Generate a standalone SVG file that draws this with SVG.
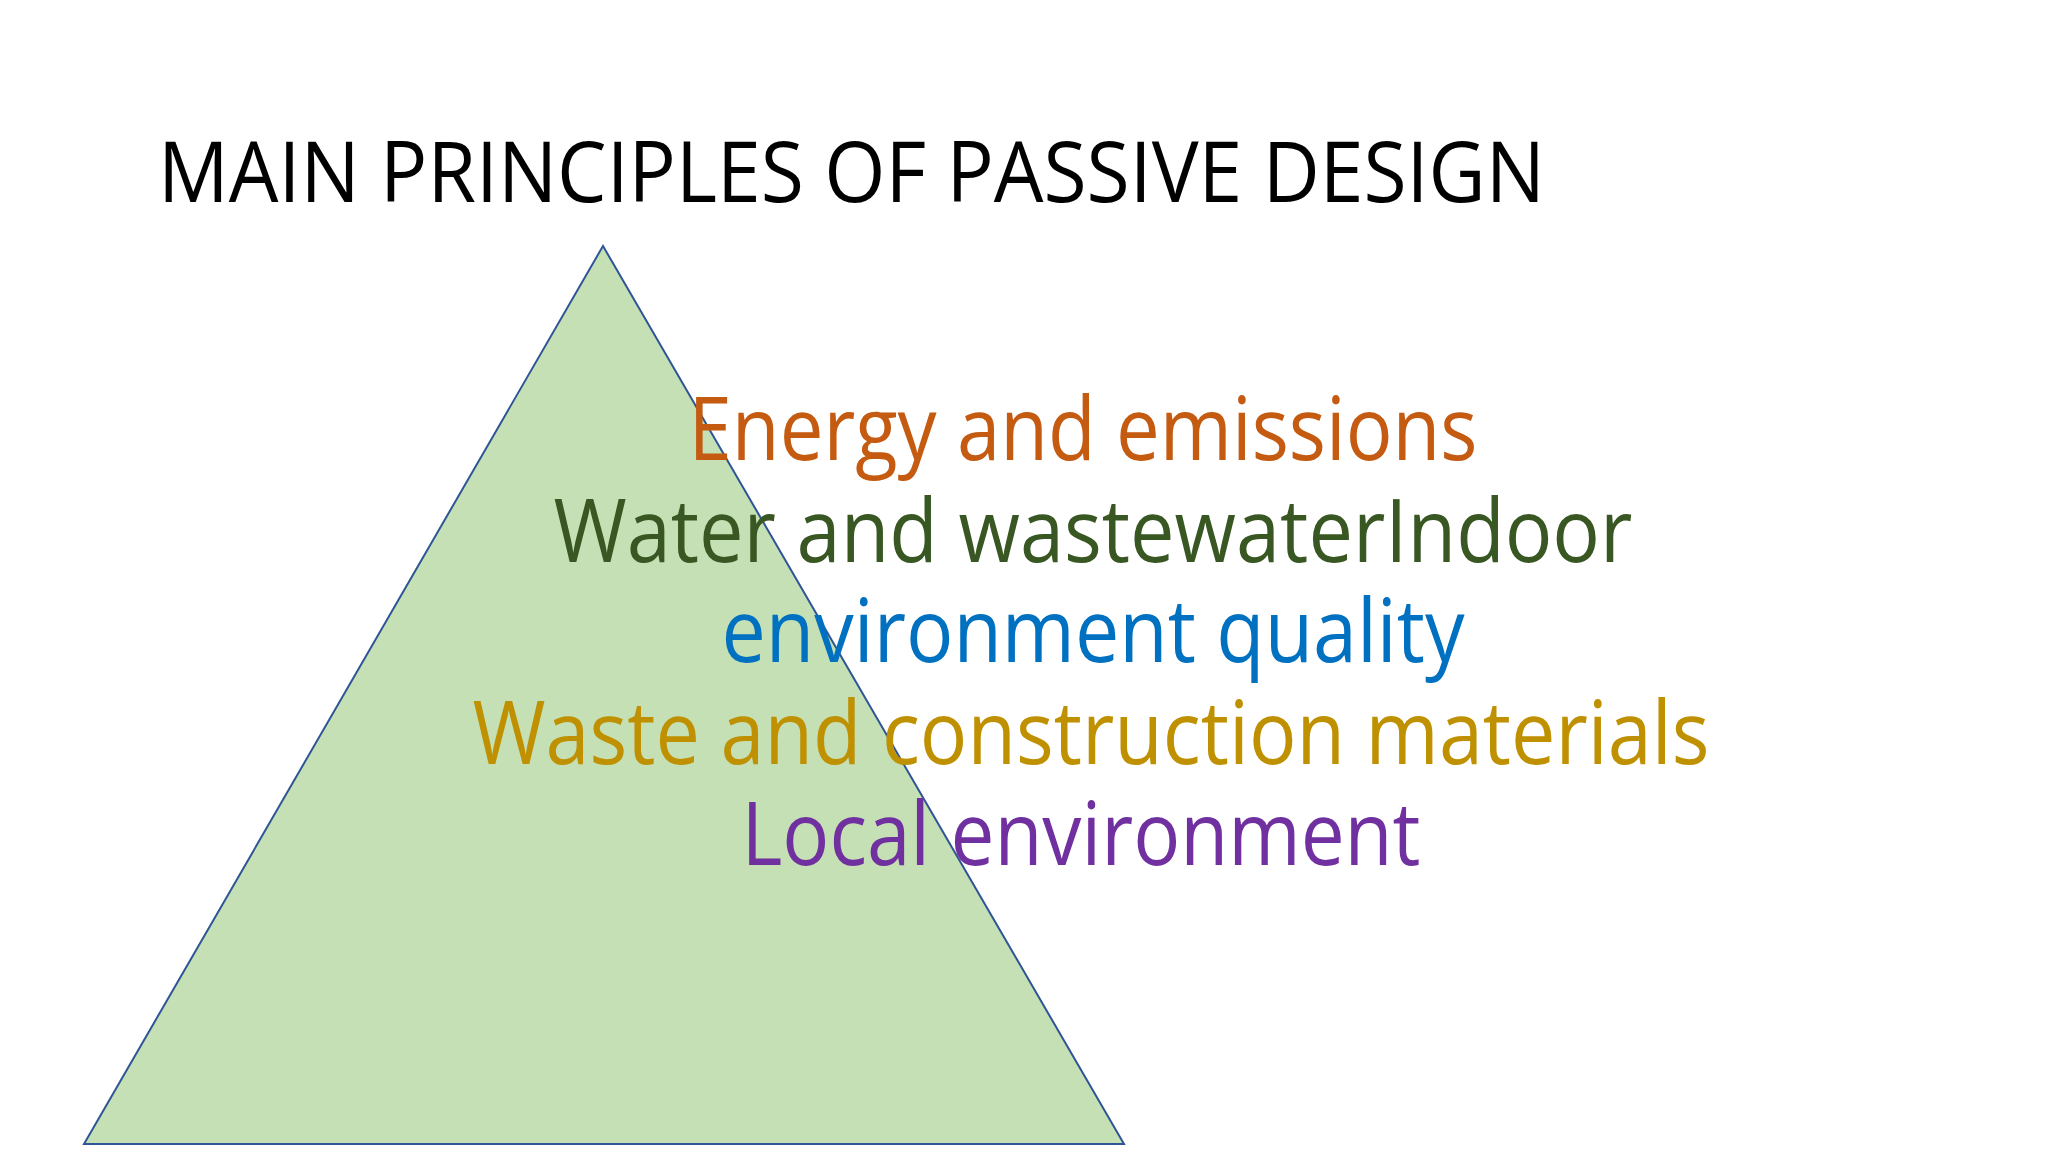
<svg xmlns="http://www.w3.org/2000/svg" width="2048" height="1152" viewBox="0 0 2048 1152">
<style>
.t{font-family:"Open Sans","Liberation Sans",sans-serif;}
.l{font-size:88px;text-anchor:middle;}
</style>
<rect width="2048" height="1152" fill="#ffffff"/>
<g id="pyramid"><polygon points="603,246 84,1144 1124,1144" fill="#C5E0B4" stroke="#2F5597" stroke-width="2"/></g>
<g id="title"><text class="t" x="158" y="202" font-size="84" fill="#000" textLength="1387" lengthAdjust="spacingAndGlyphs">MAIN PRINCIPLES OF PASSIVE DESIGN</text></g>
<g id="items">
<text class="t l" x="1083" y="460" fill="#C55A11" textLength="789" lengthAdjust="spacingAndGlyphs">Energy and emissions</text>
<text class="t l" x="1093" y="562" fill="#385723" textLength="1079" lengthAdjust="spacingAndGlyphs">Water and wastewaterIndoor</text>
<text class="t l" x="1093" y="662" fill="#0070C0" textLength="743" lengthAdjust="spacingAndGlyphs">environment quality</text>
<text class="t l" x="1091" y="764" fill="#BF9000" textLength="1237" lengthAdjust="spacingAndGlyphs">Waste and construction materials</text>
<text class="t l" x="1081" y="865" fill="#7030A0" textLength="679" lengthAdjust="spacingAndGlyphs">Local environment</text>
</g>
</svg>
